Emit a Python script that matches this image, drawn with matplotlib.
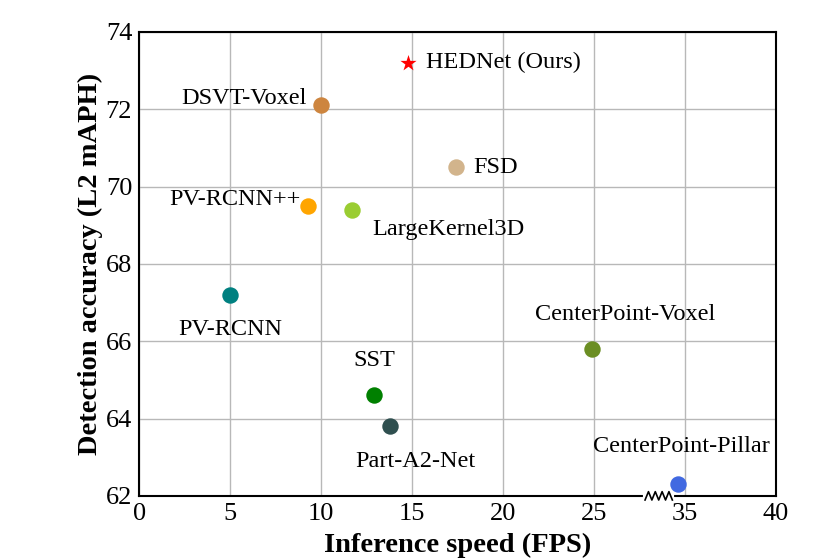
import matplotlib.pyplot as plt
import numpy as np

plt.rcParams['font.family'] = ['Liberation Serif', 'DejaVu Serif']

methods = ["HEDNet (Ours)", "DSVT-Voxel", "FSD", "PV-RCNN++", "LargeKernel3D",
           "PV-RCNN", "CenterPoint-Voxel", "SST", "Part-A2-Net", "CenterPoint-Pillar"]
fps = [14.8, 10.0, 17.4, 9.3, 11.7, 5.0, 24.9, 12.9, 13.8, 34.6]
maph = [73.2, 72.1, 70.5, 69.5, 69.4, 67.2, 65.8, 64.6, 63.8, 62.3]
colors = ["red", "peru", "tan", "orange", "yellowgreen",
          "teal", "olivedrab", "green", "darkslategray", "royalblue"]
# label offsets in pixels and alignment
offsets = [(18, 0, "left"), (-14, 7, "right"), (18, 0, "left"), (-8, 6, "right"),
           (20, -20, "left"), (0, -35, "center"), (33, 34, "center"),
           (0, 35, "center"), (25, -35, "center"), (4, 38, "center")]
xtick_labels = [0, 5, 10, 15, 20, 25, 35, 40]


def broken_x(v):
    # axis skips 30: values above 30 are shifted left by 5
    v = np.asarray(v, dtype=float)
    return np.where(v > 30, v - 5, v)


fig = plt.figure(figsize=(8.23, 5.59), dpi=100)
ax = fig.add_axes([0.169, 0.113, 0.774, 0.830])

xs = broken_x(fps)
for name, x, y, c, (dx, dy, ha) in zip(methods, xs, maph, colors, offsets):
    if name.startswith("HEDNet"):
        ax.scatter(x, y, marker="*", s=150, color=c, zorder=3, linewidths=0)
    else:
        ax.scatter(x, y, s=140, color=c, zorder=3, linewidths=0)
    ax.annotate(name, (x, y), xytext=(dx, dy), textcoords="offset pixels",
                ha=ha, va="center", fontsize=17.5)

ax.set_xlim(0, 35)
ax.set_ylim(62, 74)
ax.set_xticks(broken_x(xtick_labels))
ax.set_xticklabels([str(t) for t in xtick_labels])
ax.set_yticks(np.arange(62, 75, 2))
ax.tick_params(length=0, labelsize=19, pad=5)
ax.grid(True, color="#b8b8b8", linewidth=1)
ax.set_axisbelow(True)
for sp in ax.spines.values():
    sp.set_linewidth(1.5)

# break mark on the x axis
zx = np.linspace(27.8, 29.3, 9)
zy = np.zeros(9)
zy[1::2] = 1
trans = ax.get_xaxis_transform()
ax.plot([27.8, 29.3], [0, 0], color="white", lw=3, transform=trans, clip_on=False, zorder=4)
ax.plot(zx, zy * 0.018 - 0.009, color="black", lw=1.2, transform=trans,
        clip_on=False, zorder=5)

ax.set_xlabel("Inference speed (FPS)", fontsize=20.5, fontweight="bold", labelpad=6)
ax.set_ylabel("Detection accuracy (L2 mAPH)", fontsize=20.5, fontweight="bold", labelpad=2)

fig.savefig("out.png", dpi=100)
